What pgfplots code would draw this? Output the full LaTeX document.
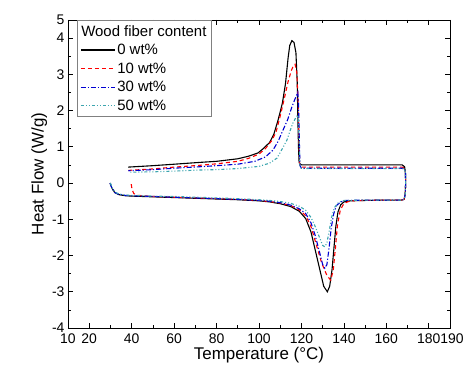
\documentclass[border=0pt]{standalone}
\usepackage{pgfplots}
\pgfplotsset{compat=1.18}
\usepackage{fontspec}
\setmainfont{Liberation Sans}
\definecolor{cteal}{RGB}{60,165,175}
\definecolor{cblue}{RGB}{0,0,210}
\begin{document}
\begin{tikzpicture}
\begin{axis}[
 scale only axis, width=382bp, height=308bp,
 xmin=10, xmax=190, ymin=-4, ymax=4.5,
 xtick={10,20,40,60,80,100,120,140,160,180},
 xticklabels={10,20,40,60,80,100,120,140,160,180},
 extra x ticks={190}, extra x tick labels={190},
 extra x tick style={xticklabel style={xshift=2bp}},
 minor xtick={30,50,...,170},
 ytick={-4,...,4,4.5}, yticklabels={-4,-3,-2,-1,0,1,2,3,4,5},
 minor ytick={-3.5,-2.5,...,3.5},
 tick align=inside, major tick length=5bp, minor tick length=3bp,
 tick style={black, line width=0.7bp},
 axis line style={line width=0.9bp},
 tick label style={font=\fontsize{14}{16}\selectfont},
 xticklabel style={yshift=-2bp},
 /pgf/number format/assume math mode=true,
 xlabel={Temperature (\textdegree C)}, ylabel={Heat Flow (W/g)},
 label style={font=\fontsize{17}{20}\selectfont},
 xlabel style={yshift=3bp},
 ylabel style={yshift=-2bp},
 legend cell align=left,
 legend image code/.code={\draw[#1] (0bp,0bp) -- (34bp,0bp);},
 legend style={at={(axis description cs:0.0236,1)}, anchor=north west, draw=gray,
   font=\fontsize{15}{17.5}\selectfont, row sep=2.6pt, inner xsep=3pt, inner ysep=3pt},
]
\addlegendimage{empty legend}
\addlegendentry{\hspace*{-36bp}Wood fiber content}
\addplot[black, line width=1.1bp] coordinates {
(29.8,0) (30.7,-0.14) (32,-0.26) (34,-0.32) (37,-0.35) (40,-0.36) (50,-0.38) (60,-0.40) (70,-0.42) (80,-0.44) (90,-0.46) (100,-0.49) (105,-0.52) (110,-0.57) (115,-0.65) (119,-0.78) (122,-0.98) (124.5,-1.35) (126.5,-1.85) (128.7,-2.4) (130.5,-2.85) (132.2,-3.0) (133.3,-2.85) (134.4,-2.4) (135.3,-1.8) (136.2,-1.2) (137.2,-0.8) (138.5,-0.6) (140,-0.52) (143,-0.49) (150,-0.48) (160,-0.47) (167,-0.47) (168.4,-0.45) (168.9,-0.3) (169.1,0) (169,0.3) (168.6,0.45) (167.5,0.5) (160,0.5) (140,0.5) (125,0.5) (120,0.5) (118.9,0.56) (118.6,1.0) (118.3,1.8) (118,2.8) (117.4,3.6) (116.5,3.88) (115.5,3.93) (114.5,3.8) (113.7,3.45) (112.5,2.75) (111,2.2) (109,1.74) (107,1.35) (105,1.12) (102,0.95) (99.5,0.83) (95,0.74) (90,0.67) (80,0.6) (72,0.57) (60,0.52) (50,0.48) (38.3,0.44)
};
\addlegendentry{0 wt\%}
\addplot[red, line width=1.1bp, dash pattern=on 4bp off 3bp] coordinates {
(39.8,-0.03) (40.2,-0.18) (41,-0.29) (43,-0.34) (50,-0.37) (60,-0.39) (70,-0.41) (80,-0.43) (90,-0.45) (100,-0.48) (105,-0.51) (110,-0.55) (115,-0.62) (119,-0.74) (122,-0.9) (124.5,-1.2) (127,-1.7) (129.5,-2.2) (132,-2.55) (133.8,-2.68) (135,-2.4) (136,-1.8) (137,-1.15) (138.3,-0.75) (140,-0.56) (143,-0.49) (150,-0.48) (160,-0.47) (167,-0.47) (168.4,-0.45) (168.9,-0.3) (169.1,0) (169,0.28) (168.6,0.41) (167.5,0.44) (160,0.44) (140,0.44) (125,0.44) (120,0.44) (119.2,0.5) (118.9,1.0) (118.5,2.2) (117.8,3.05) (117,3.28) (116.3,3.25) (115.2,3.1) (113.7,2.8) (112,2.35) (110,1.85) (108,1.4) (106,1.17) (103,0.95) (100,0.8) (95,0.68) (90,0.6) (80,0.53) (72,0.49) (60,0.44) (50,0.39) (38.5,0.35)
};
\addlegendentry{10 wt\%}
\addplot[cblue, line width=1.1bp, dash pattern=on 5bp off 2bp on 1.2bp off 2bp] coordinates {
(29.8,0) (30.7,-0.14) (32,-0.26) (34,-0.31) (37,-0.34) (40,-0.35) (50,-0.37) (60,-0.39) (70,-0.41) (80,-0.43) (90,-0.45) (100,-0.48) (105,-0.5) (110,-0.54) (115,-0.61) (119,-0.71) (122,-0.84) (124.5,-1.1) (126.5,-1.45) (128.5,-1.9) (130,-2.25) (131,-2.35) (132,-2.25) (133,-1.8) (134,-1.25) (135.2,-0.85) (136.5,-0.62) (138.5,-0.52) (141,-0.48) (150,-0.47) (160,-0.47) (167,-0.47) (168.4,-0.45) (168.9,-0.3) (169.1,0) (169,0.28) (168.6,0.39) (167.5,0.41) (160,0.41) (140,0.41) (125,0.41) (120,0.41) (119.3,0.48) (119,1.2) (118.6,2.2) (118.3,2.5) (117.5,2.4) (115.5,2.1) (113.5,1.75) (111.3,1.46) (109,1.15) (106.6,0.91) (103,0.72) (98,0.6) (90,0.52) (80,0.48) (72,0.45) (60,0.41) (50,0.37) (38.5,0.34)
};
\addlegendentry{30 wt\%}
\addplot[cteal, line width=1.1bp, dash pattern=on 3bp off 2bp on 1bp off 2bp on 1bp off 2bp] coordinates {
(30,0) (30.9,-0.14) (32.2,-0.25) (34,-0.3) (37,-0.33) (40,-0.34) (50,-0.36) (60,-0.37) (70,-0.39) (80,-0.41) (90,-0.43) (100,-0.46) (105,-0.48) (110,-0.51) (115,-0.56) (119,-0.64) (122,-0.75) (124.5,-0.95) (126.5,-1.2) (128.5,-1.5) (130,-1.72) (131,-1.76) (132,-1.65) (133,-1.35) (134.2,-0.95) (135.5,-0.68) (137.5,-0.53) (140,-0.48) (150,-0.47) (160,-0.47) (167,-0.47) (168.4,-0.45) (168.9,-0.3) (169.1,0) (169,0.28) (168.6,0.38) (167.5,0.4) (160,0.4) (140,0.4) (125,0.4) (120,0.4) (119.3,0.47) (119,1.0) (118.6,1.7) (118.3,1.88) (117.5,1.82) (116,1.66) (114.5,1.42) (113.2,1.19) (111,0.95) (108.5,0.69) (105,0.55) (100,0.46) (90,0.4) (80,0.37) (72,0.36) (60,0.33) (50,0.31) (38.5,0.3)
};
\addlegendentry{50 wt\%}
\end{axis}
\path ([shift={(-68bp,-61bp)}]current axis.south west) rectangle ([shift={(24bp,20bp)}]current axis.north east);
\end{tikzpicture}
\end{document}
